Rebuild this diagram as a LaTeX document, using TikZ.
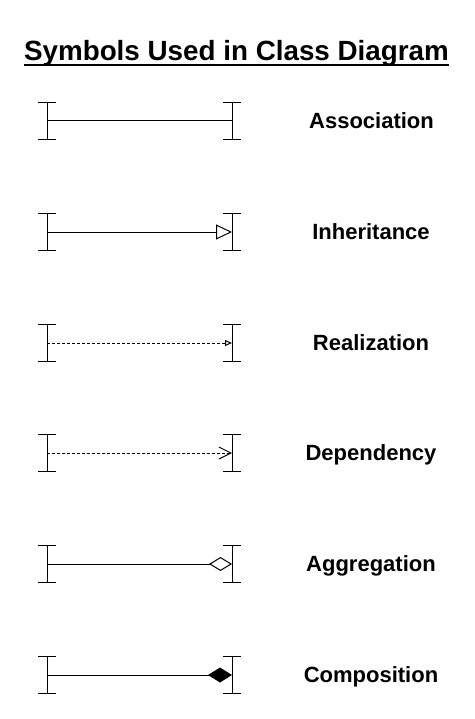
\documentclass[tikz,border=0pt]{standalone}
\usepackage{fontspec}
\setmainfont{Liberation Sans}
\usetikzlibrary{arrows.meta}
\tikzset{
  ibar/.pic={\draw (0,-18.5) -- (0,18.5) (-9,-18.5) -- (9,-18.5) (-9,18.5) -- (9,18.5);},
  symname/.style={anchor=base, inner sep=0pt, font=\fontsize{22}{26}\selectfont\bfseries},
  dotline/.style={dash pattern=on 3pt off 2pt},
}
\begin{document}
\begin{tikzpicture}[x=1pt, y=-1pt, line width=1pt]
\useasboundingbox (0,0) rectangle (474,719);
% title
\node[anchor=base, inner sep=0pt, font=\fontsize{27.8}{33}\selectfont\bfseries] (title) at (236.5,61) {Symbols Used in Class Diagram};
\draw[line width=2pt] ([yshift=-4.5pt]title.base west) -- ([yshift=-4.5pt]title.base east);
% end bars of each row
\foreach \n/\y in {1/121, 2/232, 3/343, 4/453, 5/564, 6/675} {
  \coordinate (l\n) at (47,\y);
  \coordinate (r\n) at (232,\y);
  \pic at (l\n) {ibar};
  \pic at (r\n) {ibar};
}
% connectors
\draw (l1) -- (r1);
\draw[-{Triangle[open,length=16pt,width=15pt]}] (l2) -- (r2);
\draw[dotline, -{Triangle[open,length=7pt,width=6pt]}] (l3) -- (r3);
\draw[dotline, -{Straight Barb[length=12pt,width=12pt]}] (l4) -- (r4);
\draw[-{Diamond[open,length=23pt,width=14pt]}] (l5) -- (r5);
\draw[-{Diamond[length=24pt,width=15pt]}] (l6) -- (r6);
% names
\node[symname] (assoc) at (371.5,128.5) {Association};
\node[symname] (inher) at (371,239.5) {Inheritance};
\node[symname] (real) at (371,350.5) {Realization};
\node[symname] (dep) at (371,460.5) {Dependency};
\node[symname] (aggr) at (371,571.5) {Aggregation};
\node[symname] (comp) at (371,682.5) {Composition};
\end{tikzpicture}
\end{document}
